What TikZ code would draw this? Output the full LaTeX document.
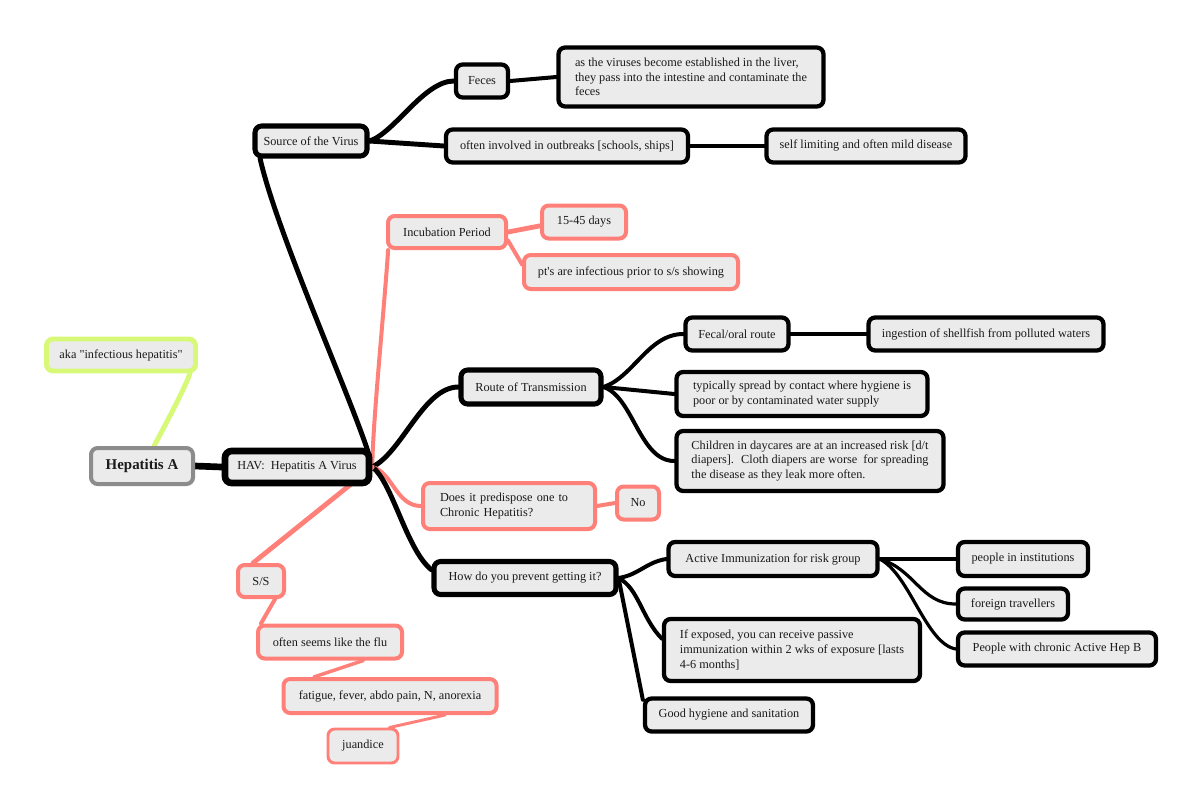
\documentclass[tikz,border=0pt]{standalone}
\usepackage{fontspec}
\setmainfont{Liberation Serif}
\usetikzlibrary{backgrounds}
\definecolor{boxfill}{HTML}{EBEBEB}
\definecolor{salm}{HTML}{FF7F79}
\definecolor{grnb}{HTML}{D8F878}
\definecolor{bord}{HTML}{8C8C8C}
\definecolor{txt}{HTML}{1A1A1A}
\newcommand\fs{\fontsize{9.2}{10.9}\selectfont}
\begin{document}
\begin{tikzpicture}[x=0.75pt,y=-0.75pt,
  base/.style={fill=boxfill, rounded corners=5pt, font=\fs, text=txt, inner sep=0pt, align=center},
  blk/.style={base, draw=black, line width=3.2pt},
  blkt/.style={base, draw=black, line width=3.8pt},
  sal/.style={base, draw=salm, line width=3pt},
  sz/.style 2 args={minimum width=#1*0.75pt, minimum height=#2*0.75pt},
  cb/.style={draw=black, line width=3.7pt, line cap=round},
  cbm/.style={draw=black, line width=3pt, line cap=round},
  cbt/.style={draw=black, line width=2.4pt, line cap=round},
  cs/.style={draw=salm, line width=3pt, line cap=round},
  cg/.style={draw=grnb, line width=3.7pt, line cap=round}]
\useasboundingbox (0,0) rectangle (1200,811);

% central
\node[base, draw=bord, line width=3pt, sz={102}{36}, font=\bfseries\fontsize{11.2}{13}\selectfont] (hepa) at (142,466) {Hepatitis A};
\node[base, draw=grnb, line width=3.7pt, sz={149}{32}] (aka) at (121,355) {aka \textquotedbl infectious hepatitis\textquotedbl};
\node[base, draw=black, line width=5pt, sz={144}{32}] (hav) at (297,467) {HAV:~ Hepatitis A Virus};

% source
\node[blkt, sz={112}{30}] (src) at (311,141) {Source of the Virus};
\node[blk, sz={52}{33}] (feces) at (482,81) {Feces};
\node[blk, sz={265}{59}, align=left] (asvir) at (691,77) {as the viruses become established in the liver,\\they pass into the intestine and contaminate the\\feces};
\node[blk, sz={242}{33}] (outb) at (567,146) {often involved in outbreaks [schools, ships]};
\node[blk, sz={199}{33}] (self) at (866,146) {self limiting and often mild disease};

% incubation
\node[sal, sz={118}{32}] (incub) at (447,232) {Incubation Period};
\node[sal, sz={84}{33}] (days) at (584,222) {15-45 days};
\node[sal, sz={214}{34}] (pts) at (631,272) {pt\textquotesingle s are infectious prior to s/s showing};

% route
\node[blkt, sz={140}{34}] (route) at (531,387) {Route of Transmission};
\node[blk, sz={103}{33}] (fecal) at (737,334) {Fecal/oral route};
\node[blk, sz={235}{33}] (ingest) at (986,334) {ingestion of shellfish from polluted waters};
\node[blk, sz={251}{44}, align=left] (typ) at (802,394) {typically spread by contact where hygiene is\\poor or by contaminated water supply};
\node[blk, sz={267}{60}, align=left] (child) at (810,461) {Children in daycares are at an increased risk [d/t\\diapers].~ Cloth diapers are worse~ for spreading\\the disease as they leak more often.};

% predispose
\node[sal, sz={172}{46}, align=left, text width=138*0.75pt] (does) at (509,506) {Does it predispose one to\\Chronic Hepatitis?};
\node[sal, sz={42}{33}] (no) at (638,503) {No};

% prevention
\node[blkt, sz={182}{33}] (how) at (525,578) {How do you prevent getting it?};
\node[blk, sz={209}{34}] (active) at (773,559) {Active Immunization for risk group};
\node[blk, sz={130}{34}] (inst) at (1023,559) {people in institutions};
\node[blk, sz={110}{31}] (foreign) at (1013,604) {foreign travellers};
\node[blk, sz={198}{33}] (chronic) at (1057,649) {People with chronic Active Hep B};
\node[blk, sz={256}{62}, align=left] (ifexp) at (792,650) {If exposed, you can receive passive\\immunization within 2 wks of exposure [lasts\\4-6 months]};
\node[blk, sz={168}{33}] (hyg) at (729,715) {Good hygiene and sanitation};

% signs
\node[sal, sz={46}{32}] (ss) at (261,581) {S/S};
\node[sal, sz={144}{33}] (flu) at (330,642) {often seems like the flu};
\node[sal, sz={213}{34}] (fat) at (390,696) {fatigue, fever, abdo pain, N, anorexia};
\node[sal, line width=2.2pt, sz={70}{34}] (jaun) at (363,746) {juandice};

\begin{scope}[on background layer]
\fill[white] (0,0) rectangle (1200,811);
\draw[cb, line width=5pt] (hepa.east) -- (hav.west);
\draw[cg] (hepa.59) .. controls +(8,-15) and +(-5,15) .. (aka.-15);

\draw[cb] (hav.east) .. controls +(-8,-40) and +(18,80) .. (src.199);
\draw[cs] (hav.east) .. controls +(0,-40) and +(-4,60) .. (incub.197);
\draw[cb] (hav.east) .. controls +(30,-15) and +(-35,0) .. (route.west);
\draw[cs] (hav.east) .. controls +(20,5) and +(-25,0) .. (does.west);
\draw[cb] (hav.east) .. controls +(20,15) and +(-25,-20) .. (how.175);
\draw[cs, line width=3.6pt] (hav.east) -- (ss.114);
\draw[cs] (ss.-52) -- (flu.165);
\draw[cs, line width=2.6pt] (flu.-29) -- (fat.166);
\draw[cs, line width=2.2pt] (fat.-19) -- (jaun.35);

\draw[cb] (src.east) .. controls +(25,-8) and +(-30,0) .. (feces.west);
\draw[cb] (src.east) -- (outb.west);
\draw[cbm] (feces.east) -- (asvir.west);
\draw[cbt] (outb.east) -- (self.west);

\draw[cs, line width=3.6pt] (incub.east) -- (days.185);
\draw[cs] (incub.-8) -- (pts.176);

\draw[cbm] (route.east) .. controls +(30,-10) and +(-35,0) .. (fecal.west);
\draw[cbm] (route.east) -- (typ.west);
\draw[cbm] (route.east) .. controls +(30,10) and +(-35,0) .. (child.west);
\draw[cbt] (fecal.east) -- (ingest.west);

\draw[cs] (does.east) -- (no.west);

\draw[cbm] (how.east) .. controls +(20,-3) and +(-20,3) .. (active.west);
\draw[cbm] (how.east) .. controls +(20,10) and +(-20,-20) .. (ifexp.175);
\draw[cbm] (how.east) -- (hyg.170);
\draw[cbt] (active.east) -- (inst.west);
\draw[cbt] (active.east) .. controls +(35,10) and +(-35,0) .. (foreign.west);
\draw[cbt] (active.east) .. controls +(30,15) and +(-30,-5) .. (chronic.west);
\end{scope}
\end{tikzpicture}
\end{document}
